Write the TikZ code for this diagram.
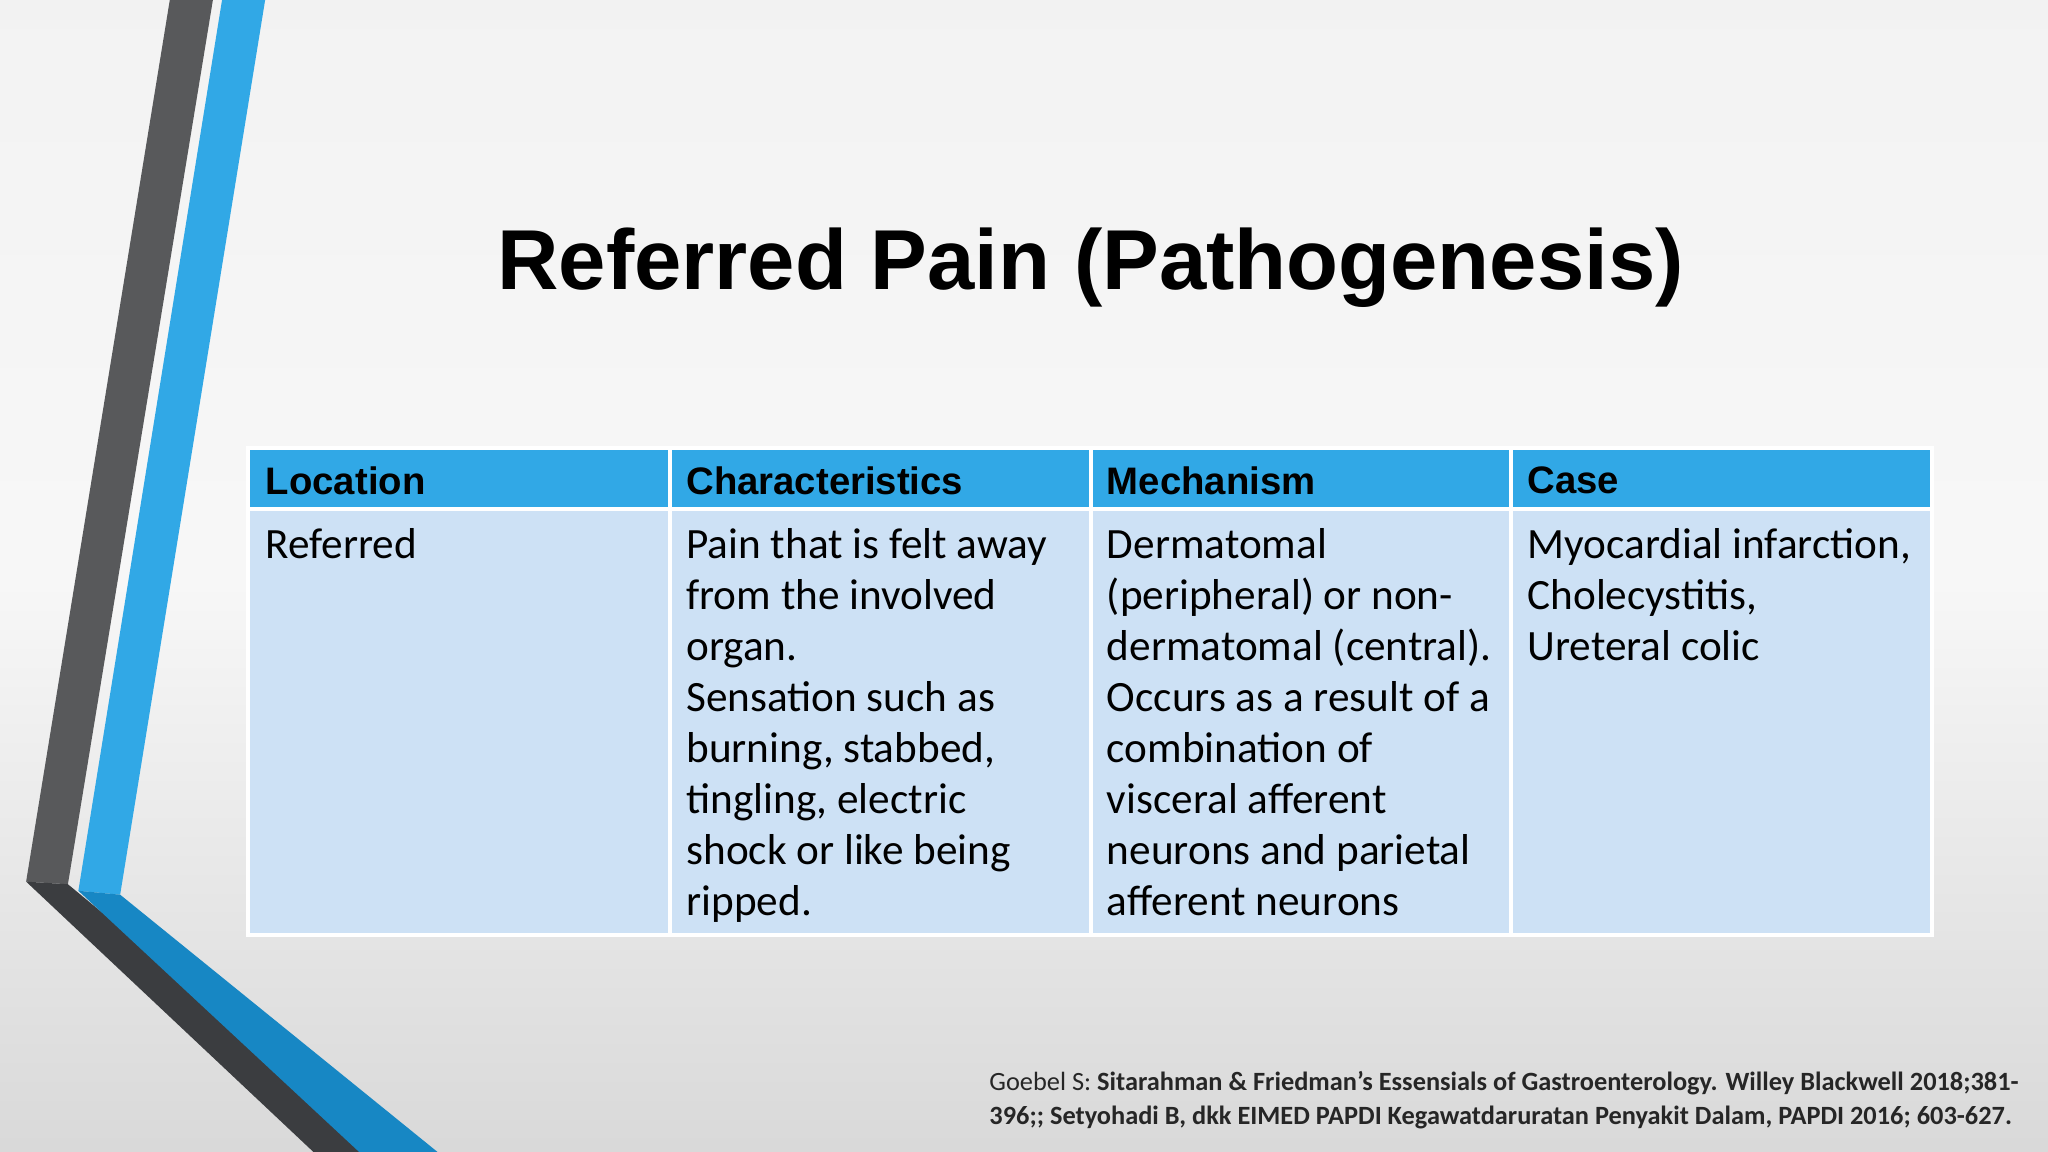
\documentclass[tikz,border=0pt]{standalone}
\usepackage{fontspec}
\setmainfont{Carlito}
\newfontfamily\arialf{Liberation Sans}
\begin{document}
\begin{tikzpicture}[x=0.013061cm,y=-0.013061cm,
  hdr/.style={anchor=west,font=\arialf\bfseries\fontsize{10.9}{12}\selectfont,text=black,inner sep=0pt},
  cell/.style={anchor=north west,align=left,font=\fontsize{12.3}{14.5}\selectfont,text=black,inner sep=0pt},
  cit/.style={anchor=north west,font=\fontsize{7.5}{9.6}\selectfont,text=black!85,inner sep=0pt,align=left}]
\definecolor{hblue}{HTML}{31A8E6}
\definecolor{bblue}{HTML}{CDE1F5}
\definecolor{dgray}{HTML}{58595B}
\definecolor{dgray2}{HTML}{3B3D40}
\definecolor{lblue}{HTML}{1787C4}
\useasboundingbox (0,0) rectangle (1568,882);
\shade[top color=gray!10,bottom color=gray!30,middle color=gray!6] (0,0) rectangle (1568,882);
% decoration
\fill[dgray] (130,0) -- (163,0) -- (52,677) -- (20,675) -- cycle;
\fill[dgray2] (20,675) -- (52,677) -- (300,882) -- (240,882) -- cycle;
\fill[hblue] (170,0) -- (203,0) -- (92,685) -- (60,682) -- cycle;
\fill[lblue] (60,682) -- (92,685) -- (335,882) -- (275,882) -- cycle;
% title
\node[font=\arialf\bfseries\fontsize{24.2}{28}\selectfont] (title) at (835,205) {Referred Pain (Pathogenesis)};
% table
\fill[hblue] (190,343) rectangle (1479,389);
\fill[bblue] (190,389) rectangle (1479,716);
\draw[white,line width=1.2pt] (190,343) rectangle (1479,716) (190,390) -- (1479,390)
  (513,343) -- (513,716) (835,343) -- (835,716) (1157,343) -- (1157,716);
\node[hdr] (h1) at (203,368) {Location};
\node[hdr] (h2) at (525,368) {Characteristics};
\node[hdr] (h3) at (847,368) {Mechanism};
\node[hdr] (h4) at (1169,368) {Case};
\node[cell] (c1) at (203,404) {Referred};
\node[cell] (c2) at (525,404) {Pain that is felt away\\from the involved\\organ.\\Sensation such as\\burning, stabbed,\\tingling, electric\\shock or like being\\ripped.};
\node[cell] (c3) at (847,404) {Dermatomal\\(peripheral) or non-\\dermatomal (central).\\Occurs as a result of a\\combination of\\visceral afferent\\neurons and parietal\\afferent neurons};
\node[cell] (c4) at (1169,404) {Myocardial infarction,\\Cholecystitis,\\Ureteral colic};
\node[cit] (ref) at (757,820) {Goebel S: \textbf{Sitarahman \& Friedman’s Essensials of Gastroenterology. Willey Blackwell 2018;381-}\\\textbf{396;; Setyohadi B, dkk EIMED PAPDI Kegawatdaruratan Penyakit Dalam, PAPDI 2016; 603-627.}};
\end{tikzpicture}
\end{document}
